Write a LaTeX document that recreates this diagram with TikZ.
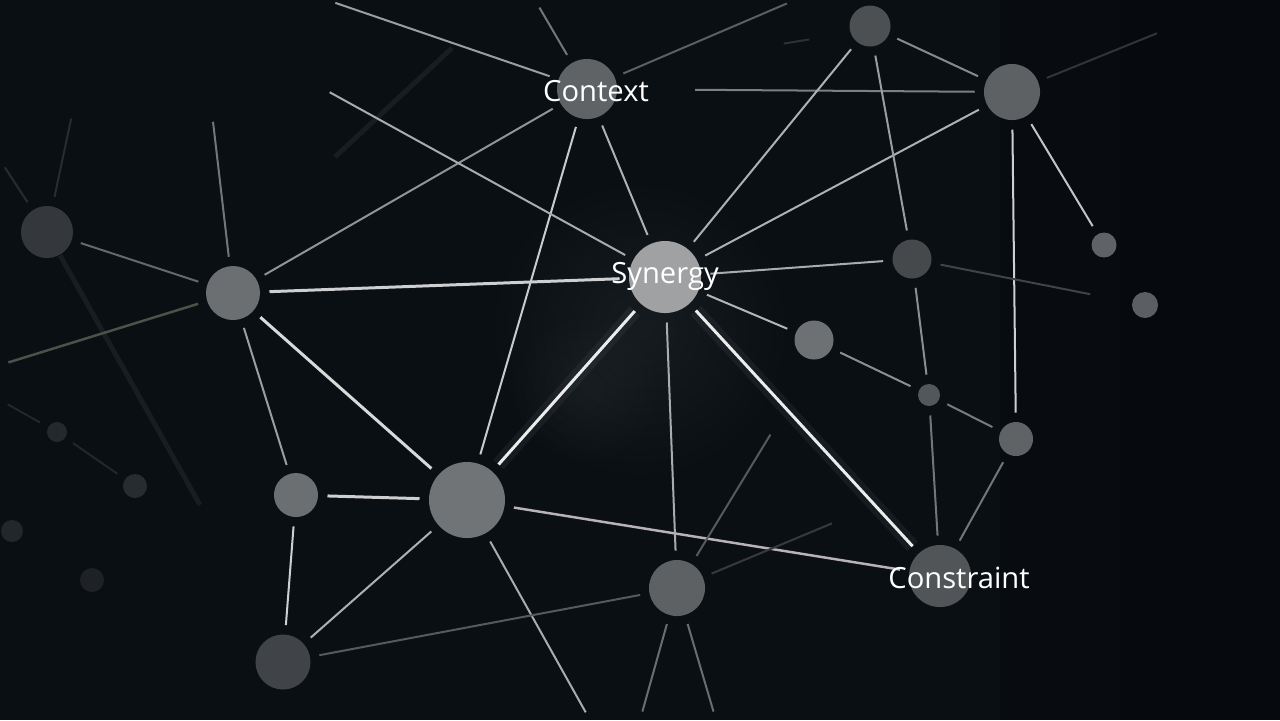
\documentclass[tikz,border=0pt]{standalone}
\usepackage{fontspec}
\setmainfont{Open Sans}
\begin{document}
\begin{tikzpicture}[x=0.01cm,y=-0.01cm]
\definecolor{bg}{HTML}{0A0F14}
\definecolor{bgdark}{HTML}{05070A}
\definecolor{greenish}{RGB}{75,82,72}
\definecolor{pinkish}{RGB}{185,178,182}
\tikzset{
  nd/.style={circle, inner sep=0pt, minimum size=#1},
  lbl/.style={text=white, font=\fontsize{8.3}{10}\selectfont, inner sep=0pt},
  ln/.style={draw=white!#1!bg, line width=0.57pt, shorten <=2.5pt, shorten >=2.5pt},
  lnb/.style={draw=white!#1!bg, line width=0.85pt, shorten <=2.5pt, shorten >=2.5pt},
  lnc/.style={draw=#1, line width=0.7pt, shorten <=2.5pt, shorten >=2.5pt},
  glowln/.style={draw=white, line width=4pt, opacity=0.05, shorten <=2.5pt, shorten >=2.5pt},
  fl/.style={draw=white!#1!bg, line width=1.4pt},
  ndf/.style={fill=white!#1!bg},
  glowdisc/.style={fill=white, opacity=0.007},
}
% background
\fill[bg] (0,0) rectangle (1280,720);
\fill[bgdark, opacity=0.25] (1000,0) rectangle (1280,720);
\fill[bgdark, opacity=0.35] (1120,0) rectangle (1280,720);
\useasboundingbox (0,0) rectangle (1280,720);
% glow around Synergy
\foreach \r in {12,24,...,144} {\fill[glowdisc] (640,330) circle (\r);}
\foreach \r in {10,20,...,70} {\fill[glowdisc] (585,390) circle (\r);}

% nodes (circles)
\node[nd=0.52cm, ndf=17] (nfade) at (47,232) {};
\node[nd=0.20cm, ndf=11] (f1) at (57,432) {};
\node[nd=0.24cm, ndf=12] (f2) at (135,486) {};
\node[nd=0.22cm, ndf=10] (f3) at (12,531) {};
\node[nd=0.24cm, ndf=8] (f4) at (92,580) {};

\node[nd=0.60cm, ndf=35] (ctx) at (587,89) {};
\node[nd=0.72cm, ndf=61] (syn) at (665,277) {};
\node[nd=0.62cm, ndf=29] (con) at (940,576) {};
\node[nd=0.76cm, ndf=42] (big) at (467,500) {};
\node[nd=0.54cm, ndf=40] (lft) at (233,293) {};
\node[nd=0.56cm, ndf=34] (ntr) at (1012,92) {};
\node[nd=0.41cm, ndf=27] (ntop) at (870,26) {};
\node[nd=0.39cm, ndf=24] (nmid) at (912,259) {};
\node[nd=0.25cm, ndf=35] (nr1) at (1104,245) {};
\node[nd=0.26cm, ndf=33] (nr2) at (1145,305) {};
\node[nd=0.39cm, ndf=41] (nsm) at (814,340) {};
\node[nd=0.22cm, ndf=30] (ntiny) at (929,395) {};
\node[nd=0.34cm, ndf=35] (nr3) at (1016,439) {};
\node[nd=0.56cm, ndf=34] (nbot) at (677,588) {};
\node[nd=0.44cm, ndf=40] (nlb) at (296,495) {};
\node[nd=0.55cm, ndf=22] (nll) at (283,662) {};

% free ends
\coordinate (c1) at (327,0);
\coordinate (c2) at (535,0);
\coordinate (c3) at (795,0);
\coordinate (c4) at (322,88);
\coordinate (c5) at (212,113);
\coordinate (c6) at (0,365);
\coordinate (c7) at (1165,30);
\coordinate (c8) at (775,427);
\coordinate (c9) at (840,520);
\coordinate (c10) at (640,720);
\coordinate (c11) at (716,720);
\coordinate (c12) at (590,720);
\coordinate (c13) at (0,160);
\coordinate (c14) at (73,110);
\coordinate (c15) at (200,505);
\coordinate (c16) at (0,400);
\coordinate (fa) at (335,157);
\coordinate (fb) at (452,48);
\coordinate (fc) at (775,45);
\coordinate (fd) at (818,38);

% faint background lines
\draw[fl=6] (nfade) -- (c15);
\draw[ln=12] (nfade) -- (c13);
\draw[ln=12] (nfade) -- (c14);
\draw[ln=10] (c16) -- (f1);
\draw[ln=10] (f1) -- (f2);
\draw[fl=6] (fa) -- (fb);
\draw[ln=14] (fc) -- (fd);

% connectors
\draw[ln=59] (ctx) -- (c1);
\draw[ln=43] (ctx) -- (c2);
\draw[ln=33] (ctx) -- (c3);
\draw[ln=47, shorten <=22pt] (ctx) -- (ntr);
\draw[ln=55] (ctx) -- (lft);
\draw[ln=78] (ctx) -- (big);
\draw[ln=67] (ctx) -- (syn);
\draw[ln=65] (c4) -- (syn);

\draw[ln=43] (lft) -- (c5);
\draw[ln=37] (lft) -- (nfade);
\draw[lnc=greenish] (lft) -- (c6);
\draw[lnb=80] (lft) -- (syn);
\draw[lnb=84] (lft) -- (big);
\draw[ln=59] (lft) -- (nlb);

\draw[lnb=80] (big) -- (nlb);
\draw[glowln] (big) -- (syn);
\draw[lnb=92] (big) -- (syn);
\draw[ln=67] (big) -- (nll);
\draw[ln=65] (big) -- (c12);
\draw[lnc=pinkish] (big) -- (con);
\draw[ln=80] (nlb) -- (nll);
\draw[ln=31] (nbot) -- (nll);

\draw[ln=67] (syn) -- (ntop);
\draw[ln=67] (syn) -- (ntr);
\draw[ln=65] (syn) -- (nmid);
\draw[ln=69] (syn) -- (nsm);
\draw[ln=65] (syn) -- (nbot);
\draw[glowln] (syn) -- (con);
\draw[lnb=92] (syn) -- (con);

\draw[ln=51] (ntop) -- (ntr);
\draw[ln=59] (ntop) -- (nmid);
\draw[ln=80] (ntr) -- (nr3);
\draw[ln=75] (ntr) -- (nr1);
\draw[ln=16] (ntr) -- (c7);
\draw[ln=22, shorten >=12pt] (nmid) -- (nr2);
\draw[ln=53] (nmid) -- (ntiny);
\draw[ln=53] (nsm) -- (ntiny);
\draw[ln=45] (ntiny) -- (nr3);
\draw[ln=43] (ntiny) -- (con);
\draw[ln=43] (nr3) -- (con);

\draw[ln=31] (nbot) -- (c8);
\draw[ln=18] (nbot) -- (c9);
\draw[ln=39] (nbot) -- (c10);
\draw[ln=39] (nbot) -- (c11);

% labels
\node[lbl] (ctxl) at (596,91) {Context};
\node[lbl] (synl) at (665,276) {Synergy};
\node[lbl] (conl) at (959,578) {Constraint};
\end{tikzpicture}
\end{document}
